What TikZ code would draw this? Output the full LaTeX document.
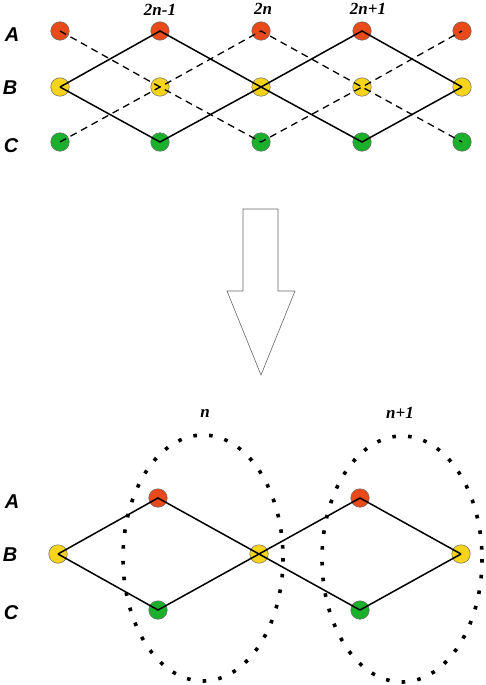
\documentclass[tikz,border=0pt]{standalone}
\usepackage{fontspec}
\setmainfont{Liberation Serif}
\newfontfamily\lblsans{Liberation Sans}
\definecolor{cA}{HTML}{E84A1A}
\definecolor{cB}{HTML}{F6D41C}
\definecolor{cC}{HTML}{1BB02C}
\begin{document}
\begin{tikzpicture}[x=1pt,y=-1pt,
  dotA/.style={circle,draw=black!60,line width=0.5pt,fill=cA,minimum size=18.5pt,inner sep=0pt},
  dotB/.style={circle,draw=black!60,line width=0.5pt,fill=cB,minimum size=18.5pt,inner sep=0pt},
  dotC/.style={circle,draw=black!60,line width=0.5pt,fill=cC,minimum size=18.5pt,inner sep=0pt},
  rowlbl/.style={font=\lblsans\bfseries\itshape\fontsize{20}{20}\selectfont},
  collbl/.style={font=\bfseries\itshape\fontsize{17}{17}\selectfont},
  solidln/.style={line width=1.5pt},
  dashln/.style={line width=1.3pt,dash pattern=on 7pt off 5pt},
  dotln/.style={line width=3.6pt,dash pattern=on 3.6pt off 12.2pt}]
\useasboundingbox (0,0) rectangle (485,685);
% top rows
\foreach \i/\x in {0/60,1/160,2/261,3/362,4/462}{
  \node[dotA] (a\i) at (\x,31) {};
  \node[dotB] (b\i) at (\x,87) {};
  \node[dotC] (c\i) at (\x,142) {};
}
\node[rowlbl] (la) at (12,35) {A};
\node[rowlbl] (lb) at (10,88) {B};
\node[rowlbl] (lc) at (11,146) {C};
\node[collbl] (t1) at (160,10) {2n-1};
\node[collbl] (t2) at (263,9) {2n};
\node[collbl] (t3) at (368,9) {2n+1};
% solid
\draw[solidln] (b0.center) -- (a1.center) -- (b2.center) -- (a3.center) -- (b4.center);
\draw[solidln] (b0.center) -- (c1.center) -- (b2.center) -- (c3.center) -- (b4.center);
% dashed
\draw[dashln] (a0.center) -- (b1.center) -- (c2.center) -- (b3.center) -- (a4.center);
\draw[dashln] (c0.center) -- (b1.center) -- (a2.center) -- (b3.center) -- (c4.center);
% big arrow
\draw[black!60,line width=0.6pt,fill=white] (243,209) -- (278,209) -- (278,291) -- (295,291) -- (261,375) -- (227,291) -- (243,291) -- cycle;
% bottom
\node[dotB] (p0) at (58,554) {};
\node[dotA] (q1) at (158,498) {};
\node[dotC] (r1) at (158,610) {};
\node[dotB] (p2) at (259,554) {};
\node[dotA] (q3) at (360,498) {};
\node[dotC] (r3) at (360,610) {};
\node[dotB] (p4) at (461,554) {};
\node[rowlbl] (lba) at (12,502) {A};
\node[rowlbl] (lbb) at (10,555) {B};
\node[rowlbl] (lbc) at (11,613) {C};
\draw[solidln] (p0.center) -- (q1.center) -- (p2.center) -- (q3.center) -- (p4.center);
\draw[solidln] (p0.center) -- (r1.center) -- (p2.center) -- (r3.center) -- (p4.center);
\draw[dotln] (203,558) ellipse (80 and 123);
\draw[dotln] (402,559) ellipse (80 and 123);
\node[collbl] (nl) at (205,413) {n};
\node[collbl] (nl2) at (400,413) {n+1};
\end{tikzpicture}
\end{document}
